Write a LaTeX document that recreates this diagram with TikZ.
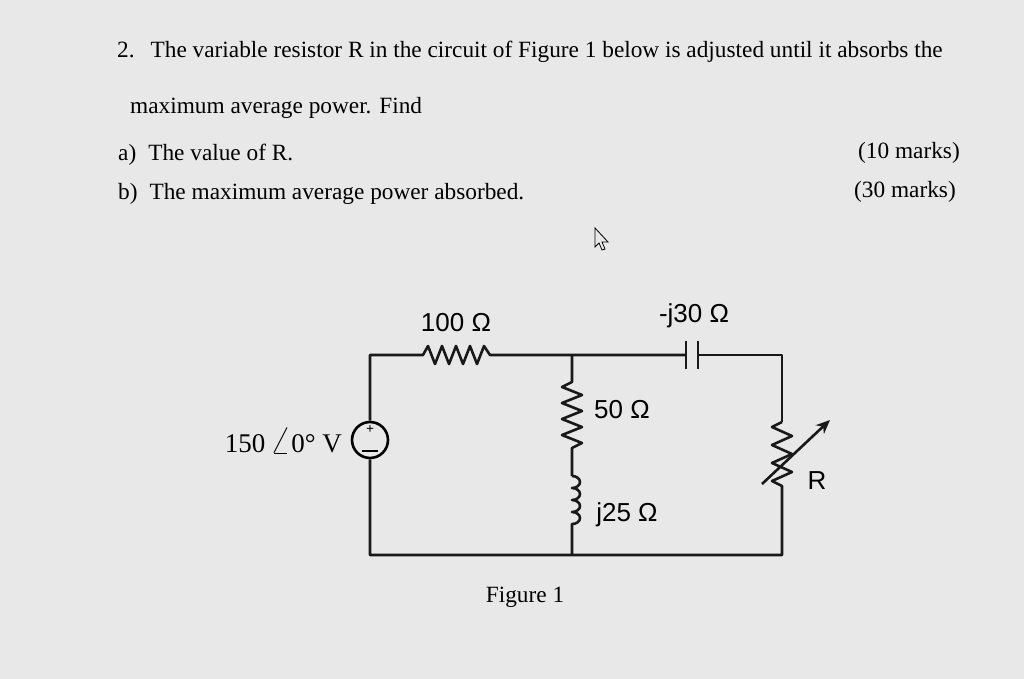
\documentclass[tikz,border=0pt]{standalone}
\usepackage{fontspec}
\usetikzlibrary{arrows.meta}
\setmainfont{Liberation Serif}
\newfontfamily\arial{Liberation Sans}
\begin{document}
\begin{tikzpicture}[x=1pt,y=-1pt,
  wire/.style={line width=2.6pt,line join=round,color=black!90},
  qtext/.style={anchor=west,font=\fontsize{23.3}{26}\selectfont,inner sep=0},
  clab/.style={font=\arial\fontsize{26}{30}\selectfont,inner sep=0}]
\fill[gray!18] (0,0) rectangle (1024,679);
\useasboundingbox (0,0) rectangle (1024,679);
% text
\node[qtext] (q1) at (117,52) {2.\hspace{16pt}The variable resistor R in the circuit of Figure 1 below is adjusted until it absorbs the};
\node[qtext] (q2) at (130,108) {maximum average power. Find};
\node[qtext] (qa) at (118,155) {a)\hspace{12pt}The value of R.};
\node[qtext] (qb) at (118,194) {b)\hspace{12pt}The maximum average power absorbed.};
\node[qtext,anchor=east] (ma) at (960,153) {(10 marks)};
\node[qtext,anchor=east] (mb) at (956,192) {(30 marks)};
\node[qtext,anchor=center] (fig) at (525,597) {Figure 1};
% cursor
\draw[line width=0.8pt] (595,228) -- (595,247) -- (599,243) -- (602,250) -- (605,249) -- (602,242) -- (608,242) -- cycle;
% circuit nodes
\coordinate (tl) at (370,355); \coordinate (tr) at (782,355);
\coordinate (bl) at (370,555); \coordinate (br) at (782,555);
\coordinate (mt) at (572,355); \coordinate (mb) at (572,555);
\node[circle,draw,line width=2.6pt,minimum size=36pt,inner sep=0] (src) at (370,440) {};
\node[font=\bfseries\fontsize{14}{14}\selectfont,inner sep=0] at (370,430) {+};
\draw[line width=2pt] (362,451) -- (378,451);
% top wire with resistor and capacitor
\draw[wire] (src.north) -- (tl) -- (423,355) -- (428,346) -- (435,364) -- (442,346) -- (449,364) -- (456,346) -- (463,364) -- (470,346) -- (477,364) -- (484,346) -- (490,355) -- (686,355);
\draw[wire] (686,341) -- (686,369); \draw[wire] (698,341) -- (698,369);
\draw[wire] (698,355) -- (tr) -- (782,422);
% right variable resistor
\draw[wire] (782,422) -- (772,427) -- (792,436) -- (772,445) -- (792,454) -- (772,463) -- (792,472) -- (772,481) -- (782,486) -- (br) -- (bl) -- (src.south);
\draw[wire,-{Stealth[length=14pt,width=12pt]}] (762,484) -- (830,420);
\node[clab] (R) at (817,481) {R};
% middle branch
\draw[wire] (mt) -- (572,382) -- (562,387) -- (582,395) -- (562,403) -- (582,411) -- (562,419) -- (582,427) -- (562,435) -- (582,443) -- (572,448) -- (572,476);
\draw[wire] (572,476) arc (-90:90:8 and 6) arc (-90:90:8 and 6) arc (-90:90:8 and 6) arc (-90:90:8 and 6) -- (mb);
% labels
\node[clab] (l100) at (456,323) {100 Ω};
\node[clab] (l30) at (694,316) {-j30 Ω};
\node[clab] (l50) at (622,410) {50 Ω};
\node[clab] (l25) at (627,515) {j25 Ω};
\node[font=\fontsize{27}{30}\selectfont,inner sep=0,anchor=east] (lv) at (342,441) {150\,\raisebox{-1pt}{\scalebox{1.6}{$\angle$}}0°~V};
\end{tikzpicture}
\end{document}
